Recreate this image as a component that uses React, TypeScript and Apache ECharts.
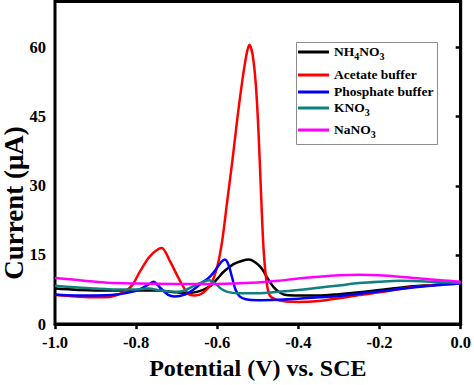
import React, { useEffect, useRef } from "react";
import * as echarts from "echarts";

// Potential (V) and current (µA) readings for each electrolyte
const potentialNH4NO3 = [-1.0, -0.9, -0.8, -0.75, -0.7, -0.68, -0.65, -0.62, -0.6, -0.585, -0.56, -0.54, -0.522, -0.505, -0.49, -0.475, -0.46, -0.445, -0.43, -0.4, -0.35, -0.3, -0.25, -0.2, -0.15, -0.1, -0.05, 0.0];
const currentNH4NO3 = [7.7, 7.3, 7.3, 7.3, 6.9, 6.7, 7.0, 8.1, 9.8, 11.3, 13.0, 13.7, 14.0, 13.3, 12.0, 9.8, 7.9, 6.8, 6.3, 6.2, 6.2, 6.5, 6.9, 7.4, 7.9, 8.3, 8.6, 8.8];

const potentialAcetate = [-1.0, -0.95, -0.9, -0.86, -0.83, -0.81, -0.79, -0.766, -0.737, -0.717, -0.692, -0.672, -0.655, -0.635, -0.615, -0.6, -0.588, -0.575, -0.562, -0.55, -0.538, -0.528, -0.521, -0.513, -0.505, -0.498, -0.492, -0.486, -0.479, -0.471, -0.455, -0.43, -0.4, -0.35, -0.3, -0.25, -0.2, -0.15, -0.1, -0.05, 0.0];
const currentAcetate = [6.3, 6.0, 5.8, 6.0, 7.0, 8.4, 11.5, 14.7, 16.5, 13.7, 9.4, 6.6, 6.2, 6.8, 8.8, 12.5, 18.0, 27.0, 36.0, 45.0, 53.0, 58.5, 60.6, 58.5, 52.0, 41.0, 28.0, 16.5, 9.5, 6.3, 5.3, 4.9, 4.8, 5.0, 5.6, 6.3, 6.9, 7.6, 8.2, 8.6, 8.9];

const potentialPhosphate = [-1.0, -0.95, -0.9, -0.85, -0.8, -0.775, -0.757, -0.742, -0.722, -0.705, -0.68, -0.66, -0.64, -0.618, -0.6, -0.59, -0.581, -0.572, -0.564, -0.555, -0.545, -0.53, -0.5, -0.45, -0.4, -0.35, -0.3, -0.25, -0.2, -0.15, -0.1, -0.05, 0.0];
const currentPhosphate = [6.4, 6.2, 6.2, 6.4, 7.2, 8.3, 9.2, 8.0, 6.4, 6.0, 6.4, 7.4, 8.8, 10.3, 12.3, 13.5, 14.0, 12.8, 10.3, 7.5, 6.0, 5.4, 5.2, 5.3, 5.5, 5.8, 6.1, 6.6, 7.1, 7.6, 8.1, 8.5, 8.8];

const potentialKNO3 = [-1.0, -0.95, -0.9, -0.85, -0.8, -0.77, -0.74, -0.72, -0.7, -0.68, -0.66, -0.64, -0.62, -0.605, -0.59, -0.575, -0.55, -0.5, -0.45, -0.4, -0.35, -0.3, -0.25, -0.2, -0.15, -0.1, -0.05, 0.0];
const currentKNO3 = [8.3, 8.0, 7.7, 7.5, 7.5, 7.7, 7.3, 7.1, 7.0, 7.3, 8.2, 9.0, 9.5, 8.8, 7.6, 7.0, 6.7, 6.7, 7.0, 7.4, 7.9, 8.4, 8.9, 9.2, 9.4, 9.3, 9.1, 8.9];

const potentialNaNO3 = [-1.0, -0.95, -0.9, -0.85, -0.8, -0.7, -0.6, -0.5, -0.45, -0.4, -0.35, -0.3, -0.25, -0.2, -0.15, -0.1, -0.05, 0.0];
const currentNaNO3 = [10.0, 9.6, 9.2, 8.9, 8.8, 8.7, 8.7, 9.0, 9.4, 9.9, 10.3, 10.6, 10.7, 10.6, 10.3, 9.9, 9.5, 9.2];

const seriesNames = ["NH4NO3", "Acetate buffer", "Phosphate buffer", "KNO3", "NaNO3"];
const seriesLabels = ["NH{sub|4}NO{sub|3}", "Acetate buffer", "Phosphate buffer", "KNO{sub|3}", "NaNO{sub|3}"];
const seriesColors = ["#000000", "#ff0000", "#0000ff", "#0f7f7f", "#ff00ff"];
const xTicks = [-1.0, -0.8, -0.6, -0.4, -0.2, 0.0];
const yTicks = [0, 15, 30, 45, 60];

const FONT = "'Liberation Serif', 'Times New Roman', serif";

const zip = (xs: number[], ys: number[]) => xs.map((x, i) => [x, ys[i]]);

export default function App() {
  const ref = useRef<HTMLDivElement>(null);
  useEffect(() => {
    if (!ref.current) return;
    const chart = echarts.init(ref.current, undefined, { renderer: "svg" });
    const datasets = [
      zip(potentialNH4NO3, currentNH4NO3),
      zip(potentialAcetate, currentAcetate),
      zip(potentialPhosphate, currentPhosphate),
      zip(potentialKNO3, currentKNO3),
      zip(potentialNaNO3, currentNaNO3),
    ];
    const legendTops = [44, 67, 84, 100, 122];
    const rich = {
      base: { fontFamily: FONT, fontWeight: "bold", fontSize: 13.5, lineHeight: 16, verticalAlign: "top", color: "#000" },
      sub: { fontFamily: FONT, fontWeight: "bold", fontSize: 10, lineHeight: 12, padding: [7, 0, 0, 0], verticalAlign: "top", color: "#000" },
    };
    const wrapBase = (s: string) =>
      s.split(/(\{sub\|[^}]*\})/).filter((p) => p.length).map((p) => (p.startsWith("{sub|") ? p : `{base|${p}}`)).join("");

    chart.setOption({
      animation: false,
      backgroundColor: "#fff",
      textStyle: { fontFamily: FONT, fontWeight: "bold", color: "#000" },
      grid: { left: 55, right: 13, top: 1.5, bottom: 54, show: true, borderColor: "#000", borderWidth: 3 },
      xAxis: {
        type: "value",
        min: -1,
        max: 0,
        interval: 0.2,
        name: "Potential (V) vs. SCE",
        nameLocation: "middle",
        nameGap: 28,
        nameTextStyle: { fontFamily: FONT, fontWeight: "bold", fontSize: 24, color: "#000" },
        axisLine: { lineStyle: { color: "#000", width: 3 } },
        axisTick: { show: true, inside: false, length: 5, lineStyle: { color: "#000", width: 2.5 }, customValues: xTicks },
        axisLabel: {
          margin: 10,
          fontFamily: FONT,
          fontWeight: "bold",
          fontSize: 16.5,
          color: "#000",
          customValues: xTicks,
          formatter: (v: number) => (Math.abs(v) < 1e-9 ? 0 : v).toFixed(1),
        },
        splitLine: { show: false },
      },
      yAxis: {
        type: "value",
        min: 0,
        max: 70,
        interval: 15,
        axisLine: { lineStyle: { color: "#000", width: 3 } },
        axisTick: { show: true, inside: false, length: 5, lineStyle: { color: "#000", width: 2.5 }, customValues: yTicks },
        axisLabel: {
          margin: 9,
          fontFamily: FONT,
          fontWeight: "bold",
          fontSize: 16.5,
          color: "#000",
          customValues: yTicks,
          formatter: (v: number) => String(v),
        },
        splitLine: { show: false },
      },
      legend: seriesNames.map((name, i) => ({
        data: [name],
        left: 298,
        top: legendTops[i],
        padding: 0,
        orient: "vertical",
        icon: "rect",
        itemWidth: 31,
        itemHeight: 3,
        selectedMode: false,
        z: 5,
        formatter: () => wrapBase(seriesLabels[i]),
        textStyle: { rich },
      })),
      graphic: [
        {
          type: "rect",
          z: 3,
          shape: { x: 296.5, y: 42.5, width: 141, height: 102 },
          style: { fill: "#fff", stroke: "#8c8c8c", lineWidth: 1 },
        },
        {
          type: "text",
          x: 14,
          y: 203,
          rotation: Math.PI / 2,
          style: {
            text: "Current (μA)",
            font: `bold 27px ${FONT}`,
            fill: "#000",
            align: "center",
            verticalAlign: "middle",
          },
        },
      ],
      series: seriesNames.map((name, i) => ({
        name,
        type: "line",
        data: datasets[i],
        showSymbol: false,
        smooth: 0.3,
        lineStyle: { color: seriesColors[i], width: 2.5 },
        itemStyle: { color: seriesColors[i] },
      })),
    });
    return () => chart.dispose();
  }, []);
  return <div ref={ref} style={{ position: "fixed", left: 0, top: 0, width: 474, height: 385 }} />;
}
